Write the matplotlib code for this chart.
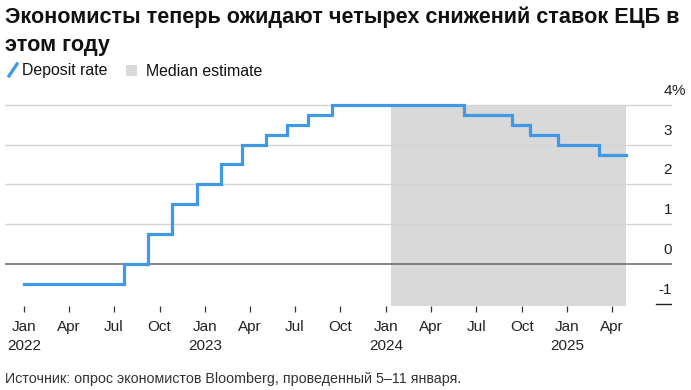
import numpy as np
import pandas as pd
import matplotlib
matplotlib.use("Agg")
import matplotlib.pyplot as plt
import matplotlib.dates as mdates
from matplotlib.transforms import offset_copy

# %% data ---------------------------------------------------------------------
# ECB deposit rate (decision dates) and median survey path from Jan 2024
step_dates = ["2022-01-01", "2022-07-21", "2022-09-08", "2022-10-27", "2022-12-15",
              "2023-02-02", "2023-03-16", "2023-05-04", "2023-06-15", "2023-07-27",
              "2023-09-14", "2024-06-06", "2024-09-12", "2024-10-17", "2024-12-12",
              "2025-03-06", "2025-04-30"]
step_rates = [-0.5, 0.0, 0.75, 1.5, 2.0, 2.5, 3.0, 3.25, 3.5, 3.75,
              4.0, 3.75, 3.5, 3.25, 3.0, 2.75, 2.75]

median_start = "2024-01-10"
median_end = "2025-04-30"

y_ticks = [-1, 0, 1, 2, 3, 4]
x_tick_dates = pd.date_range("2022-01-01", "2025-04-01", freq="QS")

TITLE = "Экономисты теперь ожидают четырех снижений ставок ЕЦБ в\nэтом году"
SOURCE = "Источник: опрос экономистов Bloomberg, проведенный 5–11 января."

BLUE = "#3f99e6"
SHADE = "#d9d9d9"

# %% figure -------------------------------------------------------------------
plt.rcParams["font.family"] = ["Liberation Sans", "DejaVu Sans"]

W, H = 691, 390
fig = plt.figure(figsize=(W / 100, H / 100), dpi=100)
ax = fig.add_axes([5 / W, 1 - 306 / H, (672 - 5) / W, (306 - 100) / H])

t = pd.to_datetime(step_dates)
x0 = pd.Timestamp("2022-01-01")
ax.set_xlim(mdates.date2num(x0 - pd.Timedelta(days=39)),
            mdates.date2num(x0 + pd.Timedelta(days=1307)))
ax.set_ylim(-1.055, 4.12)

# shaded median estimate
ax.fill_between([pd.Timestamp(median_start), pd.Timestamp(median_end)], -1.055, 4.0,
                color=SHADE, lw=0, zorder=0)

# gridlines
for v in y_ticks[2:]:
    ax.axhline(v, color="#d4d4d4", lw=1.0, zorder=1)
ax.axhline(0, color="#666666", lw=1.1, zorder=1)
ax.axhline(-1, xmin=(656 - 5) / (672 - 5), xmax=1.0, color="#222222", lw=1.0, zorder=1)

ax.plot(t, step_rates, drawstyle="steps-post", color=BLUE, lw=2.3,
        solid_joinstyle="miter", zorder=3)

# y labels above gridlines, right side
tr = offset_copy(ax.get_yaxis_transform(), fig=fig, x=0, y=14, units="dots")
for v in y_ticks:
    ax.text(1.0, v, f"{v}", transform=tr, ha="right", va="center",
            fontsize=11, color="#222222")
ax.text(1.0, 4, "%", transform=tr, ha="left", va="center", fontsize=11, color="#222222")

# x ticks
ax.set_xticks(x_tick_dates)
labels = []
for d in x_tick_dates:
    lab = d.strftime("%b")
    if d.month == 1:
        lab += f"\n{d.year}"
    else:
        lab += "\n "
    labels.append(lab)
ax.set_xticklabels(labels, fontsize=11, color="#222222", linespacing=1.5)
ax.tick_params(axis="x", length=4, width=0.9, color="#333333", pad=6)
ax.set_yticks([])
for s in ax.spines.values():
    s.set_visible(False)

# title, legend, source
fig.text(5 / W, 1 - 6 / H, TITLE, ha="left", va="top", fontsize=15.6,
         fontweight="bold", color="#111111", linespacing=1.5)

ly = 1 - 71 / H
fig.lines.append(plt.Line2D([9 / W, 17 / W], [1 - 76 / H, 1 - 64 / H],
                            transform=fig.transFigure, color=BLUE, lw=2.3))
fig.text(22 / W, ly, "Deposit rate", ha="left", va="center", fontsize=11.4, color="#111111")
fig.patches.append(plt.Rectangle((126 / W, 1 - 76 / H), 11 / W, 11 / H,
                                 transform=fig.transFigure, color=SHADE, lw=0))
fig.text(146 / W, ly, "Median estimate", ha="left", va="center", fontsize=11.4,
         color="#111111")

fig.text(5 / W, 1 - 379 / H, SOURCE, ha="left", va="center", fontsize=10.3, color="#333333")

fig.savefig("out.png", dpi=100)
